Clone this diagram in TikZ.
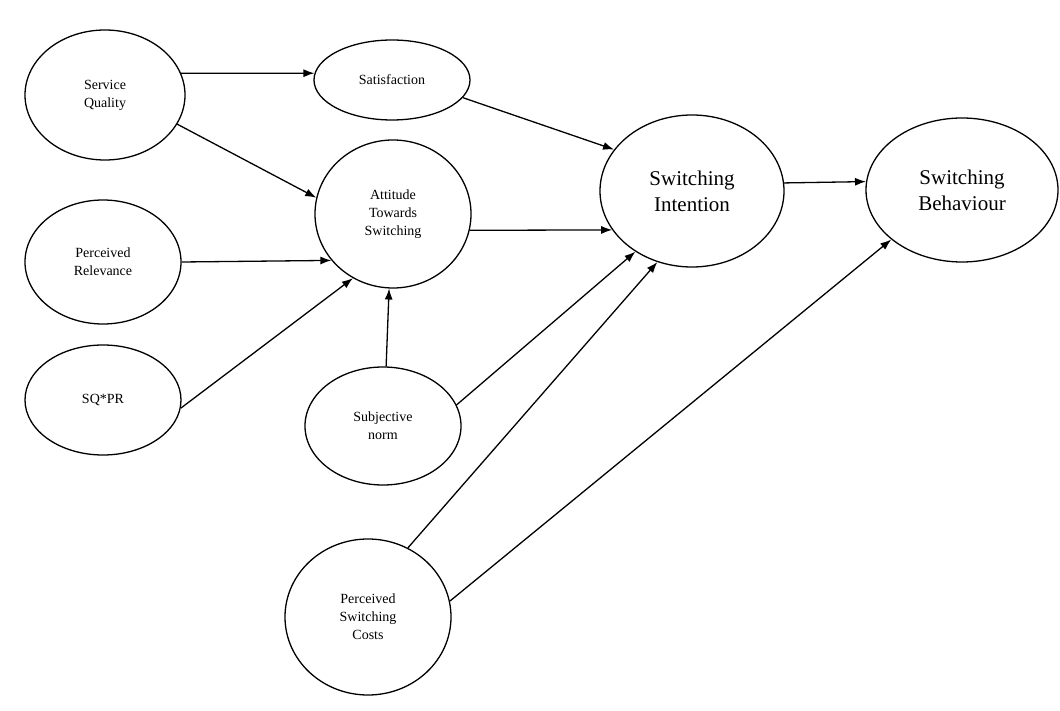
\documentclass[tikz,border=0pt]{standalone}
\usepackage{fontspec}
\setmainfont{Liberation Serif}
\usetikzlibrary{shapes.geometric,arrows.meta}
\begin{document}
\begin{tikzpicture}[x=1pt,y=1pt,
  el/.style={ellipse,draw,line width=1.3pt,inner sep=0pt,align=center},
  sm/.style={font=\fontsize{14}{18}\selectfont},
  bg/.style={font=\fontsize{21}{26}\selectfont},
  ar/.style={line width=1.3pt,-{Latex[length=11pt,width=8pt]}}]
\useasboundingbox (0,0) rectangle (1060,710);
\node[el,sm,minimum width=160pt,minimum height=130pt] (sq) at (105,615) {Service\\Quality};
\node[el,sm,minimum width=156pt,minimum height=80pt] (sat) at (392,630) {Satisfaction};
\node[el,sm,minimum width=156pt,minimum height=124pt] (pr) at (103,448) {Perceived\\Relevance};
\node[el,sm,minimum width=156pt,minimum height=110pt] (sqpr) at (103,310) {SQ*PR};
\node[el,sm,minimum width=156pt,minimum height=148pt] (att) at (393,496) {Attitude\\Towards\\Switching};
\node[el,sm,minimum width=156pt,minimum height=118pt] (sn) at (383,284) {Subjective\\norm};
\node[el,bg,minimum width=184pt,minimum height=152pt] (si) at (692,519) {Switching\\Intention};
\node[el,bg,minimum width=192pt,minimum height=144pt] (sb) at (962,520) {Switching\\Behaviour};
\node[el,sm,minimum width=166pt,minimum height=156pt] (psc) at (368,93) {Perceived\\Switching\\Costs};
\draw[ar] (sq.16) -- (sat.175);
\draw[ar] (sq.-22) -- (att.168);
\draw[ar] (sat.-14) -- (si.152);
\draw[ar] (pr.0) -- (att.217);
\draw[ar] (sqpr.-6) -- (att.238);
\draw[ar] (att.-12) -- (si.206);
\draw[ar] (sn.87) -- (att.267);
\draw[ar] (sn.16) -- (si.227);
\draw[ar] (psc.60) -- (si.244);
\draw[ar] (psc.11) -- (sb.215);
\draw[ar] (si.5) -- (sb.175);
\end{tikzpicture}
\end{document}
